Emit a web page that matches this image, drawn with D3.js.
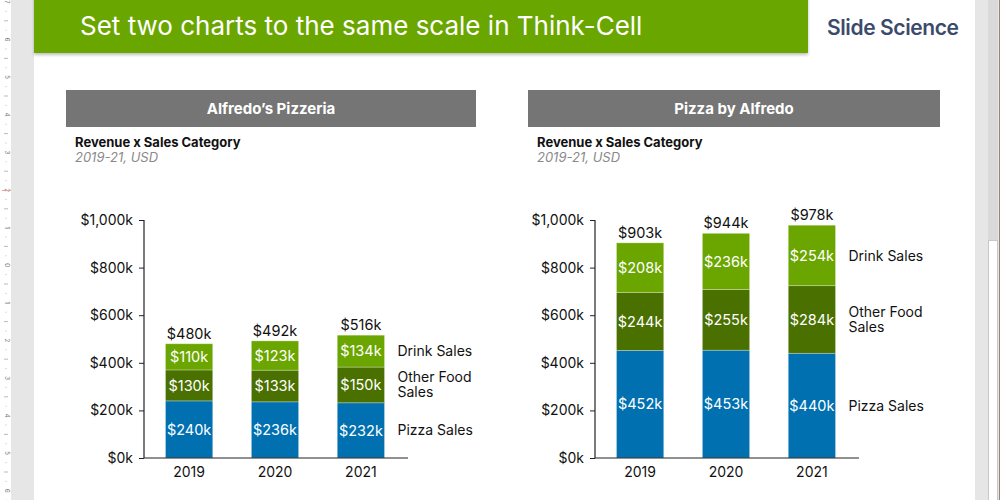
<!DOCTYPE html>
<html><head><meta charset="utf-8">
<script src="https://cdn.jsdelivr.net/npm/d3@7"></script>
<style>
html,body{margin:0;padding:0;background:#fff;}
svg{display:block;font-family:Inter,"Noto Sans",sans-serif;}
</style></head>
<body><svg id="c" width="1000" height="500"></svg>
<script>
const years = ["2019","2020","2021"];
const seriesNames = ["Pizza Sales","Other Food Sales","Drink Sales"];
const legendLines = [["Pizza Sales"],["Other Food","Sales"],["Drink Sales"]];
const seriesColors = ["#0070b0","#4a7000","#6ba600"];
const yTicks = [0,200,400,600,800,1000];

const leftTitle = "Alfredo’s Pizzeria";
const leftPizza = [240,236,232];
const leftOther = [130,133,150];
const leftDrink = [110,123,134];
const leftTotals = [480,492,516];

const rightTitle = "Pizza by Alfredo";
const rightPizza = [452,453,440];
const rightOther = [244,255,284];
const rightDrink = [208,236,254];
const rightTotals = [903,944,978];

const svg = d3.select("#c");

// ---- PowerPoint-like frame ----
svg.append("rect").attr("x",0).attr("y",0).attr("width",1000).attr("height",500).attr("fill","#e6e6e6");
svg.append("rect").attr("x",0).attr("y",0).attr("width",11).attr("height",500).attr("fill","#ffffff");
svg.append("rect").attr("x",34).attr("y",0).attr("width",941).attr("height",500).attr("fill","#ffffff");
// ruler
const rulerNums = ["7","6","5","4","3","2","1","0","1","2","3","4","5","6"];
const rulerStep = 37.6;
rulerNums.forEach((n,i)=>{
  const y = 2 + i*rulerStep;
  svg.append("text").attr("transform",`translate(7,${y}) rotate(90)`)
    .attr("text-anchor","middle").attr("dy","0.35em")
    .attr("font-size",6).attr("fill","#777").text(n);
  [1,2,3].forEach(k=>{
    const yy = y + k*rulerStep/4;
    svg.append("line").attr("x1", k===2?4:5.5).attr("x2", k===2?8:6.5)
      .attr("y1",yy).attr("y2",yy).attr("stroke","#aaa").attr("stroke-width",0.8);
  });
});
svg.append("line").attr("x1",2).attr("x2",11).attr("y1",190.5).attr("y2",190.5).attr("stroke","#e8a0a0").attr("stroke-width",1);
// scrollbar
svg.append("rect").attr("x",988).attr("y",0).attr("width",10).attr("height",240).attr("fill","#d9d9d9");
svg.append("rect").attr("x",988.5).attr("y",240.5).attr("width",9).attr("height",262).attr("fill","#ffffff").attr("stroke","#c8c8c8");
svg.append("line").attr("x1",999.5).attr("x2",999.5).attr("y1",0).attr("y2",500).attr("stroke","#a08070");

// ---- title bar ----
const defs = svg.append("defs");
const f = defs.append("filter").attr("id","sh").attr("x","-5%").attr("y","-5%").attr("width","110%").attr("height","130%");
f.append("feDropShadow").attr("dx",0).attr("dy",2).attr("stdDeviation",1.5).attr("flood-color","#000").attr("flood-opacity",0.25);
svg.append("rect").attr("x",34).attr("y",-5).attr("width",774).attr("height",58).attr("fill","#6ba600").attr("filter","url(#sh)");
svg.append("text").attr("x",80).attr("y",35).attr("fill","#fff").attr("font-size",26)
  .text("Set two charts to the same scale in Think-Cell");
svg.append("text").attr("x",827).attr("y",35).attr("fill","#3b4a6b").attr("font-size",21).attr("font-weight",600)
  .attr("letter-spacing",-0.4).text("Slide Science");

// ---- chart builder ----
function drawChart(cfg){
  const g = svg.append("g");
  // header
  g.append("rect").attr("x",cfg.hx).attr("y",90).attr("width",cfg.hw).attr("height",37).attr("fill","#757575");
  g.append("text").attr("x",cfg.hx+cfg.hw/2).attr("y",109).attr("dy","0.35em").attr("text-anchor","middle")
    .attr("fill","#fff").attr("font-size",15).attr("font-weight",700).text(cfg.title);
  g.append("text").attr("x",cfg.hx+9).attr("y",147).attr("font-size",13).attr("font-weight",700).attr("fill","#111")
    .text("Revenue x Sales Category");
  g.append("text").attr("x",cfg.hx+9).attr("y",162).attr("font-size",13).attr("font-style","italic").attr("fill","#8a8a8a")
    .text("2019-21, USD");

  const y = d3.scaleLinear().domain([0,1000]).range([458,220]);
  const x = d3.scaleBand().domain(years).range([cfg.ax, cfg.ax+262]).paddingInner(0.45).paddingOuter(0.25);

  const rows = years.map((yr,i)=>({year:yr, "Pizza Sales":cfg.pizza[i], "Other Food Sales":cfg.other[i], "Drink Sales":cfg.drink[i]}));
  const stacked = d3.stack().keys(seriesNames)(rows);
  const color = d3.scaleOrdinal().domain(seriesNames).range(seriesColors);

  stacked.forEach(layer=>{
    const lg = g.append("g");
    lg.selectAll("rect").data(layer).join("rect")
      .attr("x",d=>x(d.data.year)).attr("width",x.bandwidth())
      .attr("y",d=>y(d[1])).attr("height",d=>y(d[0])-y(d[1]))
      .attr("fill",color(layer.key)).attr("stroke","#ffffff").attr("stroke-opacity",0.35).attr("stroke-width",0.8);
    lg.selectAll("text").data(layer).join("text")
      .attr("x",d=>x(d.data.year)+x.bandwidth()/2).attr("y",d=>(y(d[0])+y(d[1]))/2).attr("dy","0.36em")
      .attr("text-anchor","middle").attr("fill","#fff").attr("font-size",14.5)
      .text(d=>"$"+(d[1]-d[0])+"k");
  });
  // totals
  g.selectAll(".tot").data(years).join("text").attr("class","tot")
    .attr("x",d=>x(d)+x.bandwidth()/2).attr("y",(d,i)=>y(cfg.totals[i])-5)
    .attr("text-anchor","middle").attr("fill","#111").attr("font-size",14.5)
    .text((d,i)=>"$"+cfg.totals[i]+"k");

  // y axis
  const ya = g.append("g").attr("transform",`translate(${cfg.ax},0)`)
    .call(d3.axisLeft(y).tickValues(yTicks).tickSize(5).tickPadding(6).tickFormat(d=>"$"+d3.format(",")(d)+"k"));
  ya.select(".domain").attr("stroke","#222").attr("stroke-width",1.2).attr("d",`M0,${y(1000)}V${y(0)}`);
  ya.selectAll(".tick line").attr("stroke","#222");
  ya.selectAll("text").attr("font-size",14).attr("fill","#111").attr("font-family","Inter,'Noto Sans',sans-serif");
  // x axis
  const xa = g.append("g").attr("transform",`translate(0,${y(0)})`)
    .call(d3.axisBottom(x).tickSize(0).tickPadding(9));
  xa.select(".domain").attr("stroke","#222").attr("stroke-width",1.2).attr("d",`M${cfg.ax},0H${cfg.ax+264}`);
  xa.selectAll("text").attr("font-size",14).attr("fill","#111").attr("font-family","Inter,'Noto Sans',sans-serif");

  // legend labels next to last bar
  const last = stacked.map(l=>l[l.length-1]);
  const lx = x(years[2]) + x.bandwidth() + 13;
  last.forEach((d,i)=>{
    const cy = (y(d[0])+y(d[1]))/2;
    const lines = legendLines[i];
    const t = g.append("text").attr("x",lx).attr("font-size",14).attr("fill","#111");
    lines.forEach((ln,k)=>{
      t.append("tspan").attr("x",lx).attr("y",cy + (k-(lines.length-1)/2)*15).attr("dy","0.36em").text(ln);
    });
  });
}

drawChart({hx:66,hw:410,ax:144,title:leftTitle,pizza:leftPizza,other:leftOther,drink:leftDrink,totals:leftTotals});
drawChart({hx:528,hw:412,ax:595,title:rightTitle,pizza:rightPizza,other:rightOther,drink:rightDrink,totals:rightTotals});
</script></body></html>
